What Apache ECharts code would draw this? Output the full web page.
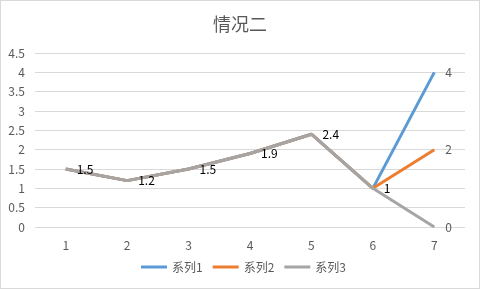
<!DOCTYPE html>
<html>
<head>
<meta charset="utf-8">
<script src="https://cdn.jsdelivr.net/npm/echarts@6/dist/echarts.min.js"></script>
<style>
  html, body { margin: 0; padding: 0; background: #fff; }
  #main { width: 478px; height: 287px; border: 1px solid #d9d9d9; }
</style>
</head>
<body>
<div id="main"></div>
<script>
const categories = ['1', '2', '3', '4', '5', '6', '7'];
const series1 = [1.5, 1.2, 1.5, 1.9, 2.4, 1, 4];
const series2 = [1.5, 1.2, 1.5, 1.9, 2.4, 1, 2];
const series3 = [1.5, 1.2, 1.5, 1.9, 2.4, 1, 0];
const names = ['系列1', '系列2', '系列3'];
const colors = ['#5b9bd5', '#ed7d31', '#a5a5a5'];

const font = '"Noto Sans CJK SC", "Microsoft YaHei", sans-serif';
const grey = '#595959';

// only the last point of 系列1/系列2 is labelled, 系列3 labels every point
function lastOnly(arr) {
  return arr.map((v, i) => i === arr.length - 1
    ? { value: v, label: { show: true } }
    : { value: v, label: { show: false } });
}
function allLabels(arr) {
  return arr.map((v, i) => i === arr.length - 1
    ? { value: v, label: { show: true, color: grey } }
    : { value: v, label: { show: true, color: '#000' } });
}

function lineSeries(idx, data) {
  return {
    name: names[idx], type: 'line', data: data, color: colors[idx],
    symbol: 'circle', symbolSize: 0, showSymbol: true,
    lineStyle: { width: 3, color: colors[idx] },
    label: { position: 'right', distance: 11, color: grey, fontSize: 12 },
    emphasis: { disabled: true }
  };
}

const chart = echarts.init(document.getElementById('main'));
chart.setOption({
  animation: false,
  textStyle: { fontFamily: font },
  title: {
    text: '情况二',
    left: 'center',
    top: 9,
    textStyle: { fontFamily: font, fontSize: 18, fontWeight: 'normal', color: grey }
  },
  legend: {
    bottom: 10,
    left: 135,
    itemWidth: 26,
    itemHeight: 3,
    itemGap: 10,
    icon: 'rect',
    textStyle: { fontFamily: font, fontSize: 12, color: grey },
    data: names
  },
  grid: { left: 34, right: 14, top: 52, bottom: 61 },
  xAxis: {
    type: 'category',
    data: categories,
    boundaryGap: true,
    axisLine: { show: false },
    axisTick: { show: false },
    axisLabel: { color: grey, fontSize: 12, margin: 12, fontFamily: font }
  },
  yAxis: {
    type: 'value',
    min: 0,
    max: 4.5,
    interval: 0.5,
    axisLine: { show: false },
    axisTick: { show: false },
    axisLabel: { color: grey, fontSize: 12, margin: 10, fontFamily: font },
    splitLine: { lineStyle: { color: '#d9d9d9', width: 1 } }
  },
  series: [
    lineSeries(0, lastOnly(series1)),
    lineSeries(1, lastOnly(series2)),
    lineSeries(2, allLabels(series3))
  ]
});
</script>
</body>
</html>
